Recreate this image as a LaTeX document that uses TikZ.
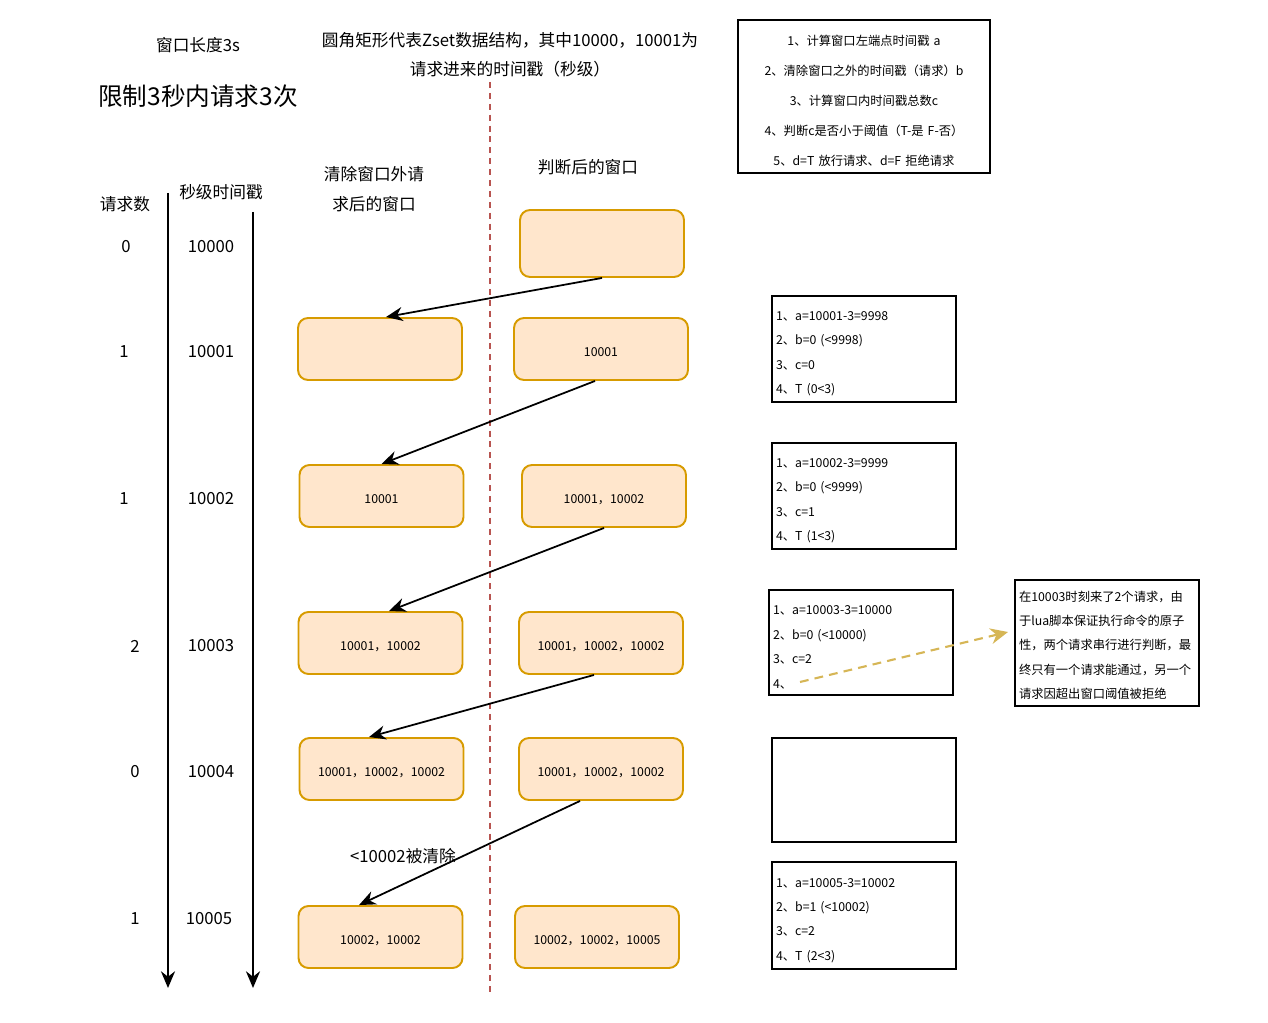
\documentclass[tikz,border=0pt]{standalone}
\usepackage{fontspec}
\setmainfont{Noto Sans CJK SC}
\usetikzlibrary{arrows.meta,positioning}
\definecolor{winfill}{HTML}{FFE6CC}
\definecolor{winline}{HTML}{D79B00}
\definecolor{cutline}{HTML}{B85450}
\definecolor{hintline}{HTML}{D6B656}

\begin{document}
\begin{tikzpicture}[
  x=0.02cm, y=-0.02cm,
  win/.style={rectangle,rounded corners=0.2cm,draw=winline,fill=winfill,line width=1.1pt,
    minimum width=3.28cm,minimum height=1.24cm,inner sep=0pt,text height=8pt,text depth=0pt,
    font=\fontsize{7}{8}\selectfont},
  calc/.style={rectangle,draw,line width=1.1pt,minimum height=2.08cm,text width=3.52cm,
    inner xsep=0.08cm,align=left,text height=10.7pt,font=\fontsize{7}{13.9}\selectfont},
  lbl/.style={inner sep=0pt,font=\fontsize{9.5}{17}\selectfont},
  flow/.style={->,line width=1pt},
  >={Stealth[length=9.5pt,width=8pt]}
]
  \useasboundingbox (0,0) rectangle (1268,1023);

  % Titles
  \node[lbl] (winlen) at (198,45) {窗口长度3s};
  \node[inner sep=0pt,font=\fontsize{14}{17}\selectfont] (limit) at (198,96) {限制3秒内请求3次};
  \node[lbl,align=center,font=\fontsize{9.5}{16.4}\selectfont] (legend) at (510,55) {圆角矩形代表Zset数据结构，其中10000，10001为\\请求进来的时间戳（秒级）};

  % Steps
  \node[calc,text width=4.88cm,minimum height=3.06cm,align=center,font=\fontsize{7}{17}\selectfont] (steps) at (864,96.5)
    {1、计算窗口左端点时间戳 a\\2、清除窗口之外的时间戳（请求）b\\3、计算窗口内时间戳总数c\\4、判断c是否小于阈值（T-是 F-否）\\5、d=T 放行请求、d=F 拒绝请求};

  % Column heads
  \node[lbl,align=center] (cleared) at (374,189) {清除窗口外请\\求后的窗口};
  \node[lbl] (judged) at (588,167) {判断后的窗口};
  \node[lbl] (cnthead) at (125,204) {请求数};
  \node[lbl] (tshead) at (221,192) {秒级时间戳};

  % Axes
  \coordinate (cntTop) at (168,193);
  \coordinate (cntEnd) at (168,988);
  \coordinate (tsTop) at (253,212);
  \coordinate (tsEnd) at (253,988);
  \draw[->,line width=1.1pt] (cntTop) -- (cntEnd);
  \draw[->,line width=1.1pt] (tsTop) -- (tsEnd);

  % Divider
  \coordinate (cutTop) at (490,82);
  \coordinate (cutEnd) at (490,997);
  \draw[cutline,line width=1pt,dash pattern=on 3.4pt off 2.8pt] (cutTop) -- (cutEnd);

  % Row labels
  \node[lbl] (cnt0) at (126,247) {0};
  \node[lbl] (ts0) at (211,247) {10000};
  \node[lbl] (cnt1) at (124,352) {1};
  \node[lbl] (ts1) at (211,352) {10001};
  \node[lbl] (cnt2) at (124,499) {1};
  \node[lbl] (ts2) at (211,499) {10002};
  \node[lbl] (cnt3) at (135,646) {2};
  \node[lbl] (ts3) at (211,646) {10003};
  \node[lbl] (cnt4) at (135,772) {0};
  \node[lbl] (ts4) at (211,772) {10004};
  \node[lbl] (cnt5) at (135,919) {1};
  \node[lbl] (ts5) at (209,919) {10005};

  % Windows
  \node[win,minimum height=1.34cm] (r0) at (602,243.5) {};
  \node[win] (l1) at (380,349) {};
  \node[win,minimum width=3.48cm] (r1) at (601,349) {10001};
  \node[win] (l2) at (381.5,496) {10001};
  \node[win] (r2) at (604,496) {10001，10002};
  \node[win] (l3) at (380.5,643) {10001，10002};
  \node[win] (r3) at (601,643) {10001，10002，10002};
  \node[win] (l4) at (381.5,769) {10001，10002，10002};
  \node[win] (r4) at (601,769) {10001，10002，10002};
  \node[win] (l5) at (380.5,937) {10002，10002};
  \node[win] (r5) at (597,937) {10002，10002，10005};

  % Moves
  \draw[flow] (r0.south) -- ([xshift=0.12cm]l1.north);
  \draw[flow] ([xshift=-0.12cm]r1.south) -- (l2.north);
  \draw[flow] (r2.south) -- ([xshift=0.17cm]l3.north);
  \draw[flow] ([xshift=-0.14cm]r3.south) -- ([xshift=-0.25cm]l4.north);
  \draw[flow] ([xshift=-0.42cm]r4.south) -- ([xshift=-0.43cm]l5.north);
  \node[lbl] (drop) at (403,856) {<10002被清除};

  % Calculations
  \node[calc] (c1) at (864,349) {1、a=10001-3=9998\\2、b=0 (<9998)\\3、c=0\\4、T (0<3)};
  \node[calc] (c2) at (864,496) {1、a=10002-3=9999\\2、b=0 (<9999)\\3、c=1\\4、T (1<3)};
  \node[calc,minimum height=2.1cm] (c3) at (861,642.5) {1、a=10003-3=10000\\2、b=0 (<10000)\\3、c=2\\4、};
  \node[calc] (c4) at (864,790) {};
  \node[calc] (c5) at (864,915.5) {1、a=10005-3=10002\\2、b=1 (<10002)\\3、c=2\\4、T (2<3)};

  % Race note
  \node[calc,minimum height=2.52cm,text height=8.5pt] (race) at (1107,643)
    {在10003时刻来了2个请求，由\\于lua脚本保证执行命令的原子\\性，两个请求串行进行判断，最\\终只有一个请求能通过，另一个\\请求因超出窗口阈值被拒绝};
  \coordinate (hintFrom) at (800,682);
  \coordinate (hintTo) at (1008,632);
  \draw[hintline,line width=1.2pt,dash pattern=on 5pt off 3.5pt,-{Stealth[length=10pt,width=9pt]}] (hintFrom) -- (hintTo);
\end{tikzpicture}
\end{document}
